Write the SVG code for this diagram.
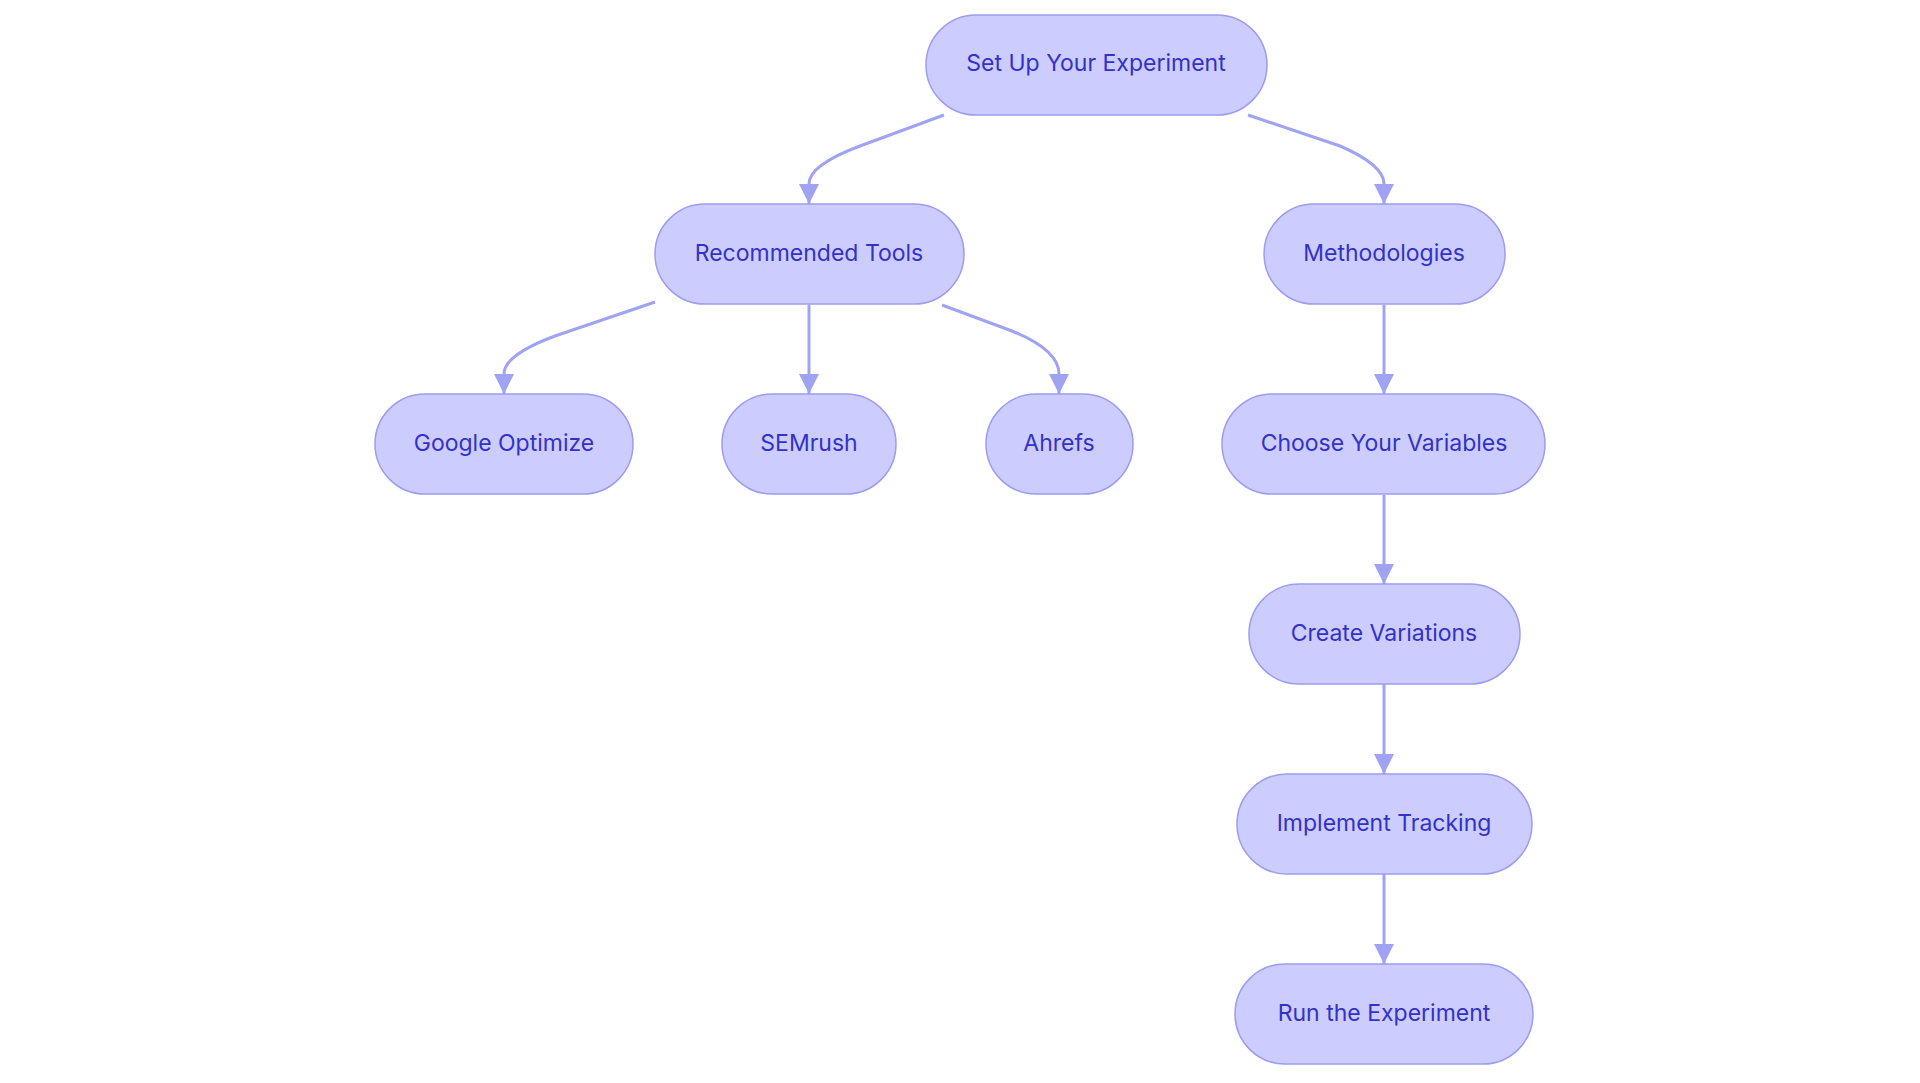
<svg xmlns="http://www.w3.org/2000/svg" width="1920" height="1083" viewBox="0 0 1920 1083">
<style>
.n rect{fill:#ccccff;stroke:#9c9cf2;stroke-width:1.5}
.n text{font-family:Inter,"Noto Sans",sans-serif;font-size:23px;fill:#3232c8;text-anchor:middle;dominant-baseline:central}
.e path{fill:none;stroke:#9fa3f2;stroke-width:3}
</style>
<defs><marker id="a" viewBox="0 0 10 10" refX="10" refY="5" markerWidth="7" markerHeight="7" markerUnits="userSpaceOnUse" orient="auto" style="overflow:visible"><path d="M0,0L10,5L0,10z" fill="#9fa3f2" transform="scale(2)translate(-5,-2.5)"/></marker>
<marker id="m" viewBox="0 0 20 20" refX="20" refY="10" markerWidth="20" markerHeight="20" markerUnits="userSpaceOnUse" orient="auto"><path d="M0,0L20,10L0,20z" fill="#9fa3f2"/></marker></defs>
<rect width="1920" height="1083" fill="#fff"/>
<g class="e">
<path d="M944,115 L860,146 Q809,165 809,184 L809,204" marker-end="url(#m)"/>
<path d="M1248,115 L1340,146 Q1384,165 1384,184 L1384,204" marker-end="url(#m)"/>
<path d="M655,302 L555,336 Q504,355 504,374 L504,394" marker-end="url(#m)"/>
<path d="M809,305 L809,394" marker-end="url(#m)"/>
<path d="M942,305 L1012,331 Q1059,350 1059,374 L1059,394" marker-end="url(#m)"/>
<path d="M1384,305 L1384,394" marker-end="url(#m)"/>
<path d="M1384,495 L1384,584" marker-end="url(#m)"/>
<path d="M1384,684 L1384,774" marker-end="url(#m)"/>
<path d="M1384,874 L1384,964" marker-end="url(#m)"/>
</g>
<g id="n1" class="n"><rect x="926" y="15" width="341" height="100" rx="50"/><text x="1096" y="63">Set Up Your Experiment</text></g>
<g id="n2" class="n"><rect x="655" y="204" width="309" height="100" rx="50"/><text x="809" y="253">Recommended Tools</text></g>
<g id="n3" class="n"><rect x="1264" y="204" width="241" height="100" rx="50"/><text x="1384" y="253">Methodologies</text></g>
<g id="n4" class="n"><rect x="375" y="394" width="258" height="100" rx="50"/><text x="504" y="443">Google Optimize</text></g>
<g id="n5" class="n"><rect x="722" y="394" width="174" height="100" rx="50"/><text x="809" y="443">SEMrush</text></g>
<g id="n6" class="n"><rect x="986" y="394" width="147" height="100" rx="50"/><text x="1059" y="443">Ahrefs</text></g>
<g id="n7" class="n"><rect x="1222" y="394" width="323" height="100" rx="50"/><text x="1384" y="443">Choose Your Variables</text></g>
<g id="n8" class="n"><rect x="1249" y="584" width="271" height="100" rx="50"/><text x="1384" y="633">Create Variations</text></g>
<g id="n9" class="n"><rect x="1237" y="774" width="295" height="100" rx="50"/><text x="1384" y="823">Implement Tracking</text></g>
<g id="n10" class="n"><rect x="1235" y="964" width="298" height="100" rx="50"/><text x="1384" y="1013">Run the Experiment</text></g>
</svg>
